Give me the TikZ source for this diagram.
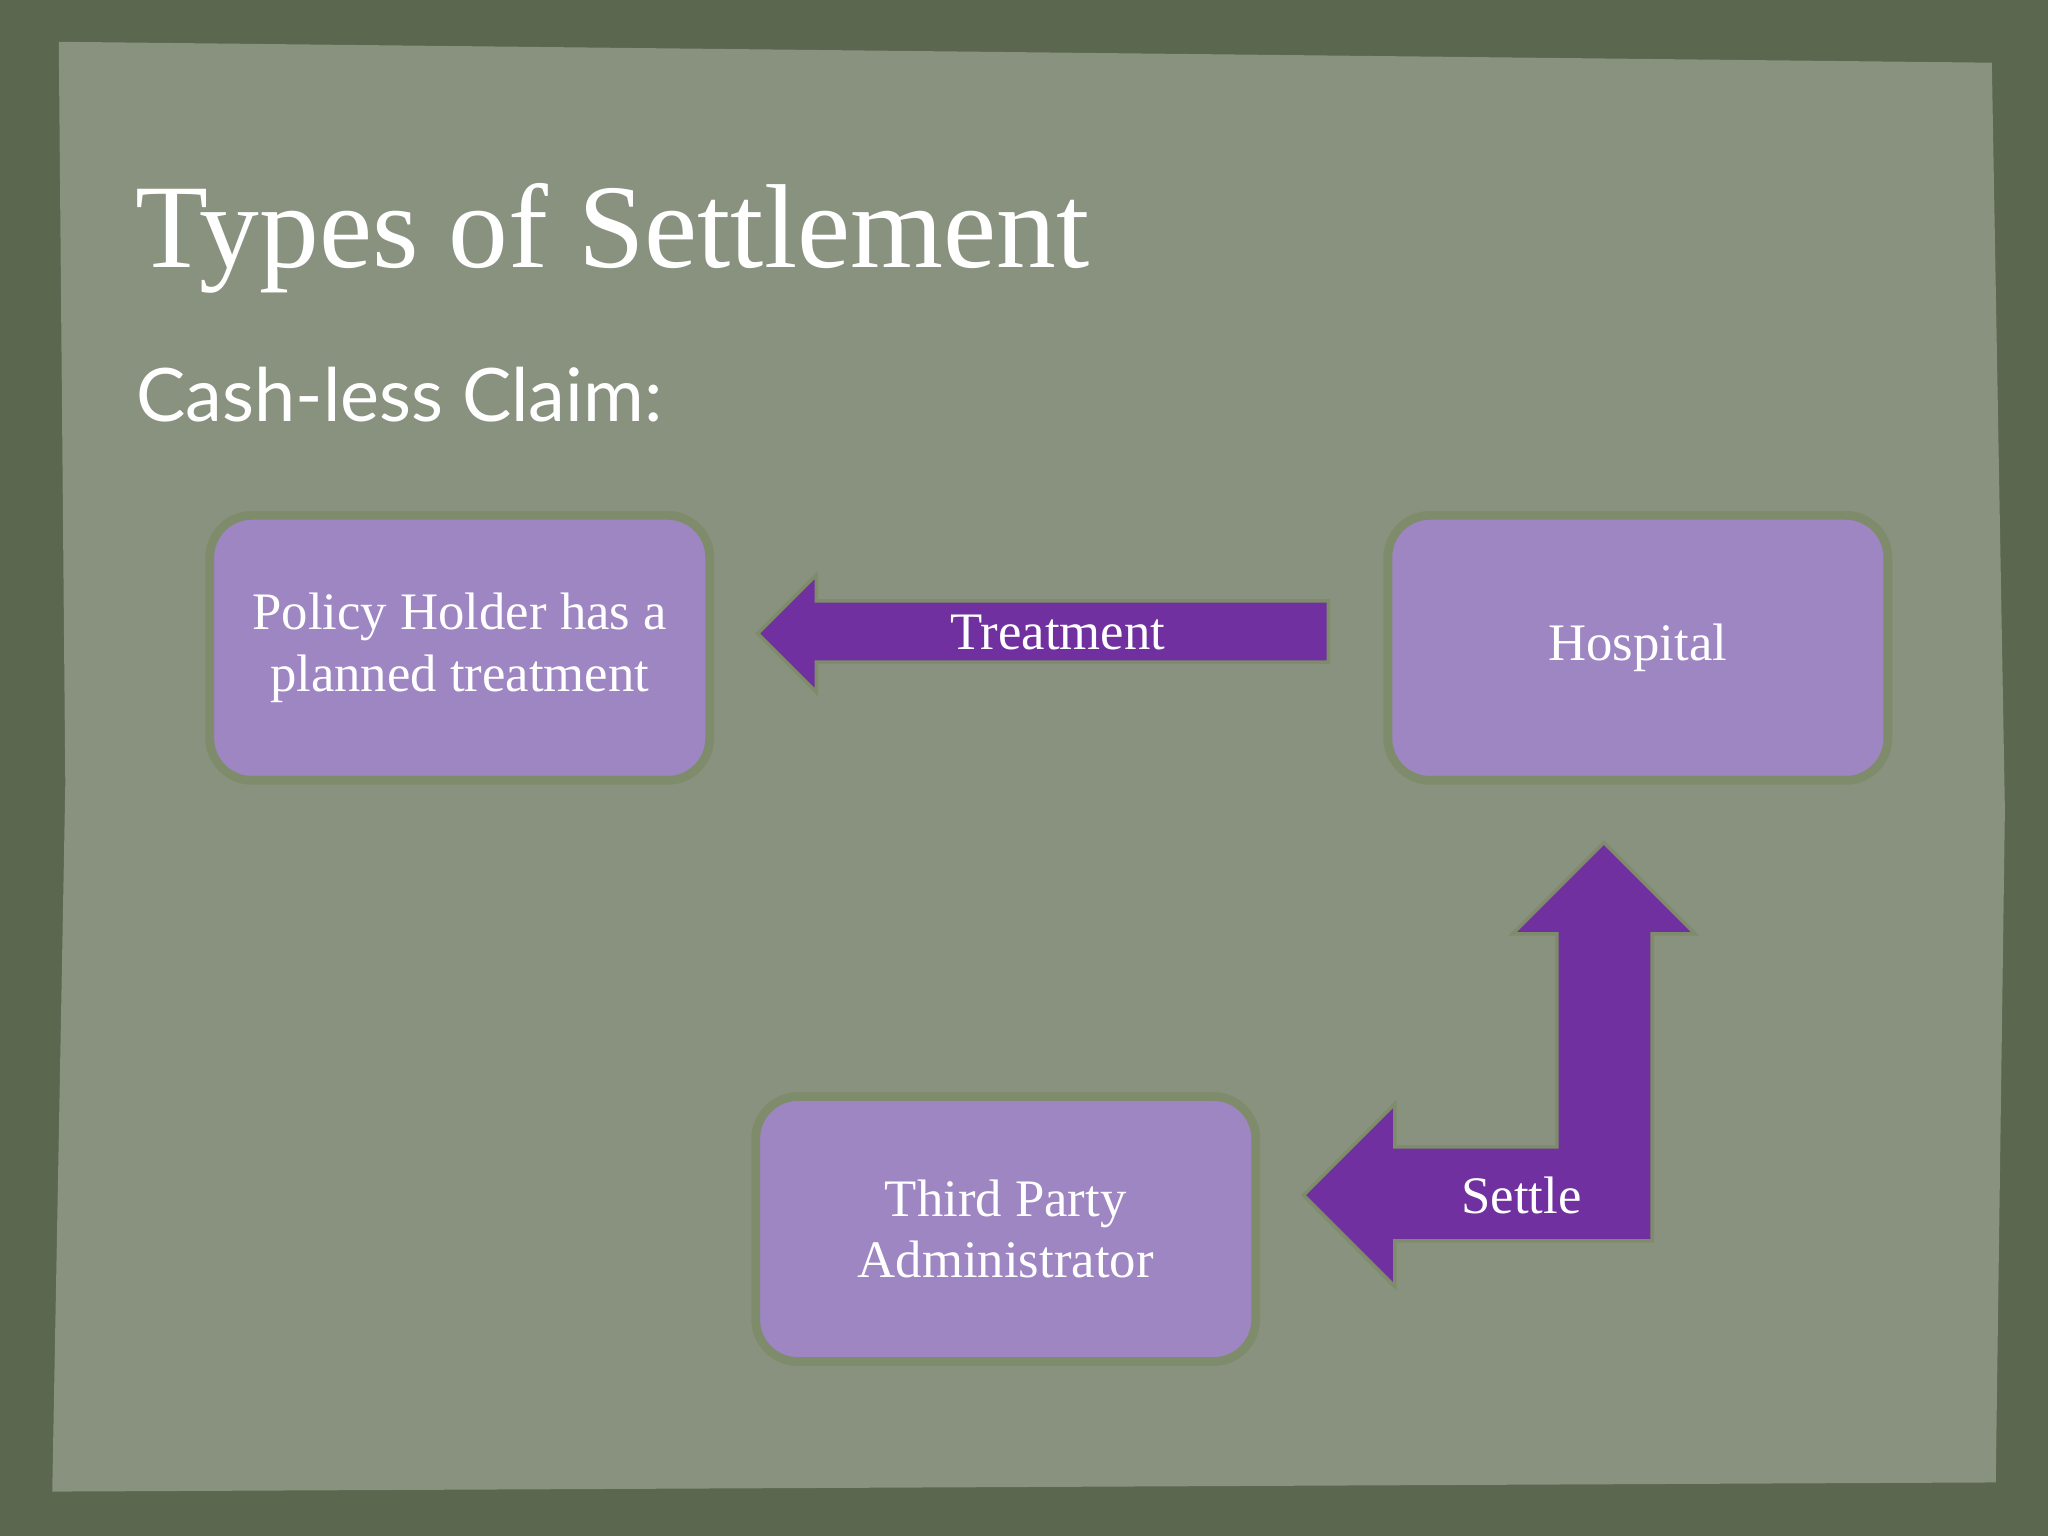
\documentclass[tikz,border=0pt]{standalone}
\usepackage{fontspec}
\setmainfont{Liberation Serif}
\newfontfamily\headfont{Lato}
\usetikzlibrary{positioning}
\definecolor{frame}{HTML}{5B674F}
\definecolor{paper}{HTML}{89927F}
\definecolor{boxfill}{HTML}{9E86C2}
\definecolor{boxline}{HTML}{7E8C6C}
\definecolor{arrowfill}{HTML}{7030A0}
\tikzset{
  step box/.style={draw=boxline,line width=2.5pt,fill=boxfill,rounded corners=12pt,
    minimum width=5.0cm,minimum height=2.65cm,align=center,text=white,font=\fontsize{15}{17.5}\selectfont},
  block arrow/.style={fill=arrowfill,draw=boxline,line width=1pt},
  arrow label/.style={text=white,font=\fontsize{15}{19}\selectfont}
}
\begin{document}
\begin{tikzpicture}[x=0.013061cm,y=-0.013061cm]
  \useasboundingbox (0,0) rectangle (1568,1176);
  \fill[frame] (0,0) rectangle (1568,1176);
  \fill[paper] (45,32) -- (1525,48) -- (1535,620) -- (1528,1135) -- (40,1142) -- (50,600) -- cycle;
  % title
  \node[anchor=base west,text=white,font=\fontsize{34}{40}\selectfont] (title) at (94,205) {Types of Settlement};
  \node[anchor=base west,text=white,font=\headfont\fontsize{21}{25}\selectfont] (sub) at (95,323) {Cash-less Claim:};
  % boxes
  \node[step box] (holder) at (352,496) {Policy Holder has a\\planned treatment};
  \node[step box] (hospital) at (1254,496) {Hospital};
  \node[step box] (tpa) at (770,941) {Third Party\\Administrator};
  % arrows
  \draw[block arrow] (580,485) -- (625,440) -- (625,460) -- (1017,460) -- (1017,507)
    -- (625,507) -- (625,530) -- cycle;
  \node[arrow label] (treat) at (810,484) {Treatment};
  \draw[block arrow] (1228,645) -- (1298,715) -- (1265,715) -- (1265,950) -- (1068,950)
    -- (1068,985) -- (998,915) -- (1068,845) -- (1068,878) -- (1192,878) -- (1192,715)
    -- (1158,715) -- cycle;
  \node[arrow label] (settle) at (1165,915) {Settle};
\end{tikzpicture}
\end{document}
